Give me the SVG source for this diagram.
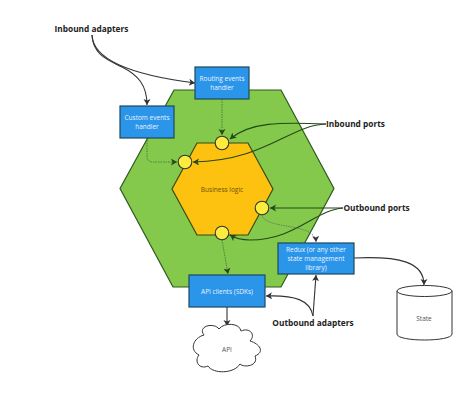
<svg xmlns="http://www.w3.org/2000/svg" width="474" height="411" viewBox="0 0 474 411">
<style>
text{font-family:"Open Sans","Noto Sans",sans-serif;text-anchor:middle}
.t{font-size:6.500px;fill:#555}
.w{font-size:6.500px;fill:#e8f3ff}
.b{font-size:8.300px;font-weight:700;fill:#222}
.box{fill:#2b95ea;stroke:#1d4a5e;stroke-width:1.2}
.port{fill:#fcec3e;stroke:#333;stroke-width:1.1}
.s{fill:none;stroke:#333;stroke-width:1.1}
.g{fill:none;stroke:#24491a;stroke-width:1.1}
.d{fill:none;stroke:#3f6e38;stroke-width:.8;stroke-dasharray:1.5 1}
.sh{fill:#fff;stroke:#333;stroke-width:1}
</style>
<defs>
<marker id="a" markerUnits="userSpaceOnUse" markerWidth="8" markerHeight="8" refX="6" refY="3.5" orient="auto"><path d="M0 0L6 3.500L0 7L1.500 3.500Z" fill="#333"/></marker>
<marker id="g" markerUnits="userSpaceOnUse" markerWidth="8" markerHeight="8" refX="6" refY="3.500" orient="auto"><path d="M0 0L6 3.500L0 7L1.500 3.500Z" fill="#24491a"/></marker>
</defs>
<g id="outer-hexagon"><path d="M174 90H281L334 188.500L281 287H173L120 188.500Z" fill="#84c94b" stroke="#2c5a1e" stroke-width="1.200"/></g>
<g id="business-logic"><path d="M197 143H248L273 189L248 235H197L172 189Z" fill="#fdc10f" stroke="#3a4a14" stroke-width="1.200"/><text class="t" x="222" y="191.500" style="fill:#6b5310">Business logic</text></g>
<g id="connectors">
<path class="s" d="M92 35C93 55 108 60 122 67C138 75 147 85 147 105" marker-end="url(#a)"/>
<path class="s" d="M92 35C93 62 140 76 195 83" marker-end="url(#a)"/>
<path class="d" d="M222 99V135" marker-end="url(#g)"/>
<path class="d" d="M147 138V156Q147 162 153 162H177" marker-end="url(#g)"/>
<path class="g" d="M326 124C280 122 250 122 230 139" marker-end="url(#g)"/>
<path class="g" d="M326 124C290 125 265 161 193 162" marker-end="url(#g)"/>
<path class="g" d="M343 208H270" marker-end="url(#g)"/>
<path class="g" d="M343 208C315 210 295 240 250 240Q238 240 230 235" marker-end="url(#g)"/>
<path class="d" d="M262 215C265 230 315 222 316 242" marker-end="url(#a)" style="stroke:#666"/>
<path class="d" d="M222 240L228 274" marker-end="url(#g)"/>
<path class="s" d="M354 258C400 256 424 262 424 285" marker-end="url(#a)"/>
<path class="s" d="M227 307V326" marker-end="url(#a)"/>
<path class="s" d="M313 316L316 275" marker-end="url(#a)"/>
<path class="s" d="M313 316C310 300 295 295 266 296" marker-end="url(#a)"/>
</g>
<g id="routing-events-handler"><rect class="box" x="195" y="67" width="54" height="32"/><text class="w" x="222" y="80.500">Routing events</text><text class="w" x="222" y="89.500">handler</text></g>
<g id="custom-events-handler"><rect class="box" x="120" y="106" width="54" height="32"/><text class="w" x="147" y="119.500">Custom events</text><text class="w" x="147" y="128.500">handler</text></g>
<g id="redux"><rect class="box" x="278" y="243" width="76" height="31"/><text class="w" x="316" y="252">Redux (or any other</text><text class="w" x="316" y="261">state management</text><text class="w" x="316" y="270">library)</text></g>
<g id="api-clients"><rect class="box" x="189" y="275" width="76" height="32"/><text class="w" x="227" y="293.500">API clients (SDKs)</text></g>
<g id="port-top"><circle class="port" cx="222" cy="143" r="6.800"/></g>
<g id="port-left"><circle class="port" cx="185" cy="162" r="6.800"/></g>
<g id="port-right"><circle class="port" cx="262" cy="208" r="6.800"/></g>
<g id="port-bottom"><circle class="port" cx="222" cy="233" r="6.800"/></g>
<g id="state"><path class="sh" d="M397 291V334C397 342 452 342 452 334V291"/><ellipse class="sh" cx="424.500" cy="291" rx="27.500" ry="5.500"/><text class="t" x="424" y="320.500">State</text></g>
<g id="api"><path class="sh" d="M204 335C197 326 214 322 219 329C224 322 240 323 241 331C250 327 256 335 250 341C260 344 265 352 255 356C259 366 244 368 240 364C234 374 213 374 208 366C199 370 194 361 199 355C189 350 193 338 204 335Z"/><text class="t" x="227" y="351.500">API</text></g>
<g id="label-inbound-adapters"><text class="b" x="91.500" y="32">Inbound adapters</text></g>
<g id="label-inbound-ports"><text class="b" x="355.500" y="127">Inbound ports</text></g>
<g id="label-outbound-ports"><text class="b" x="376.500" y="211">Outbound ports</text></g>
<g id="label-outbound-adapters"><text class="b" x="313" y="326">Outbound adapters</text></g>
</svg>
